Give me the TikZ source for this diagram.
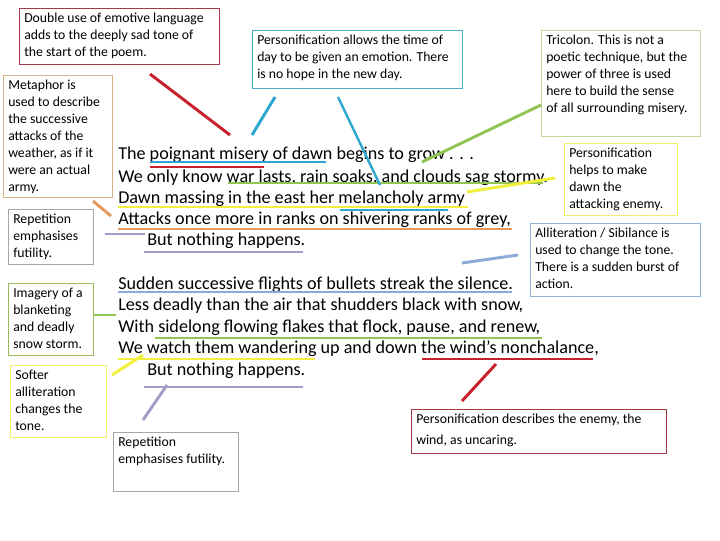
\documentclass[tikz,border=0pt]{standalone}
\usepackage{fontspec}
\setmainfont{Carlito}
\definecolor{cred}{HTML}{C8202A}
\definecolor{cblue}{HTML}{2FA6D0}
\definecolor{cgreen}{HTML}{93C352}
\definecolor{cyellow}{HTML}{F2F03C}
\definecolor{corange}{HTML}{E39A5C}
\definecolor{cpurple}{HTML}{A79BC7}
\definecolor{clblue}{HTML}{8EAAD8}
\definecolor{bred}{HTML}{A33A48}
\definecolor{btan}{HTML}{D8B284}
\definecolor{bgray}{HTML}{A6A6A6}
\definecolor{bgreen}{HTML}{9BBB59}
\definecolor{byellow}{HTML}{F3EE6A}
\definecolor{bblue}{HTML}{4BACC6}
\definecolor{blgreen}{HTML}{C3D69B}
\definecolor{bsteel}{HTML}{95B3D7}
\newcommand\bx[3]{\parbox[t][\dimexpr#2pt*3/4-7pt\relax][t]{\dimexpr#1pt*3/4-7pt\relax}{\raggedright#3}}
\tikzset{
  box/.style={draw=#1, line width=0.9pt, anchor=north west, inner xsep=3.5pt, inner ysep=3.5pt,
     font=\fontsize{10.3}{12.75}\selectfont},
  poem/.style={anchor=base west, inner sep=0pt, font=\fontsize{13.6}{16}\selectfont},
  ul/.style={draw=#1, line width=2.2pt},
  con/.style={draw=#1, line width=2.2pt},
}
\begin{document}
\begin{tikzpicture}[x=0.75pt,y=-0.75pt]
\useasboundingbox (0,0) rectangle (720,540);
% boxes
\node[box=bred] (b1) at (19,8) {\bx{200}{56}{Double use of emotive language\\adds to the deeply sad tone of\\the start of the poem.}};
\node[box=btan] (b2) at (3,75) {\bx{109}{122}{Metaphor is\\used to describe\\the successive\\attacks of the\\weather, as if it\\were an actual\\army.}};
\node[box=bgray] (b3) at (8,209) {\bx{85}{55}{Repetition\\emphasises\\futility.}};
\node[box=bgreen] (b4) at (8,283) {\bx{85}{72}{Imagery of a\\blanketing\\and deadly\\snow storm.}};
\node[box=byellow] (b5) at (10,365) {\bx{96}{72}{Softer\\alliteration\\changes the\\tone.}};
\node[box=bgray] (b6) at (113,432) {\bx{125}{59}{Repetition\\emphasises futility.}};
\node[box=bblue] (b7) at (252,30) {\bx{210}{58}{Personification allows the time of\\day to be given an emotion. There\\is no hope in the new day.}};
\node[box=blgreen] (b8) at (541,30) {\bx{159}{106}{Tricolon. This is not a\\poetic technique, but the\\power of three is used\\here to build the sense\\of all surrounding misery.}};
\node[box=byellow] (b9) at (564,143) {\bx{113}{72}{Personification\\helps to make\\dawn the\\attacking enemy.}};
\node[box=bsteel] (b10) at (530,223) {\bx{170}{73}{Alliteration / Sibilance is\\used to change the tone.\\There is a sudden burst of\\action.}};
\node[box=bred] (b11) at (411,409) {\bx{255}{44}{\setlength\baselineskip{15.5pt}Personification describes the enemy, the\\wind, as uncaring.}};
% poem
\node[poem] (p1) at (118,159) {The poignant misery of dawn begins to grow . . .};
\node[poem] (p2) at (118,182) {We only know war lasts, rain soaks, and clouds sag stormy.};
\node[poem] (p3) at (118,203) {Dawn massing in the east her melancholy army};
\node[poem] (p4) at (118,224) {Attacks once more in ranks on shivering ranks of grey,};
\node[poem] (p5) at (147,245) {But nothing happens.};
\node[poem] (q1) at (118,289) {Sudden successive flights of bullets streak the silence.};
\node[poem] (q2) at (118,310) {Less deadly than the air that shudders black with snow,};
\node[poem] (q3) at (118,332) {With sidelong flowing flakes that flock, pause, and renew,};
\node[poem] (q4) at (118,353) {We watch them wandering up and down the wind's nonchalance,};
\node[poem] (q5) at (147,375) {But nothing happens.};
% underlines
\coordinate (u1a) at (150,162); \coordinate (u1b) at (326,162);
\coordinate (u2a) at (150,167); \coordinate (u2b) at (264,167);
\coordinate (u3a) at (228,183); \coordinate (u3b) at (543,183);
\coordinate (u4a) at (118,207); \coordinate (u4b) at (468,207);
\coordinate (u5a) at (340,210); \coordinate (u5b) at (448,210);
\coordinate (u6a) at (118,229); \coordinate (u6b) at (512,229);
\coordinate (u7a) at (144,252); \coordinate (u7b) at (303,252);
\coordinate (u8a) at (118,292); \coordinate (u8b) at (512,292);
\coordinate (u9a) at (155,338); \coordinate (u9b) at (542,338);
\coordinate (u10a) at (118,359); \coordinate (u10b) at (315,359);
\coordinate (u11a) at (422,359); \coordinate (u11b) at (593,359);
\coordinate (u12a) at (144,387); \coordinate (u12b) at (303,387);
\draw[ul=cblue] (u1a) -- (u1b);
\draw[ul=cred] (u2a) -- (u2b);
\draw[ul=cgreen] (u3a) -- (u3b);
\draw[ul=cyellow] (u4a) -- (u4b);
\draw[ul=cblue] (u5a) -- (u5b);
\draw[ul=corange] (u6a) -- (u6b);
\draw[ul=cpurple] (u7a) -- (u7b);
\draw[ul=clblue] (u8a) -- (u8b);
\draw[ul=cgreen] (u9a) -- (u9b);
\draw[ul=cyellow] (u10a) -- (u10b);
\draw[ul=cred] (u11a) -- (u11b);
\draw[ul=cpurple] (u12a) -- (u12b);
% connectors
\coordinate (c1a) at (150,74); \coordinate (c1b) at (230,135);
\coordinate (c2a) at (275,97); \coordinate (c2b) at (252,135);
\coordinate (c3a) at (338,97); \coordinate (c3b) at (380,185);
\coordinate (c4b) at (422,162);
\coordinate (c5a) at (555,178); \coordinate (c5b) at (467,192);
\coordinate (c6a) at (518,255); \coordinate (c6b) at (462,263);
\coordinate (c7a) at (496,364); \coordinate (c7b) at (462,401);
\coordinate (c8a) at (93,201); \coordinate (c8b) at (111,216);
\coordinate (c9a) at (105,234); \coordinate (c9b) at (145,234);
\coordinate (c10b) at (116,315);
\coordinate (c11a) at (112,375); \coordinate (c11b) at (143,355);
\coordinate (c12a) at (143,420); \coordinate (c12b) at (167,385);
\draw[con=cred] (c1a) -- (c1b);
\draw[con=cblue] (c2a) -- (c2b);
\draw[con=cblue, line width=1.8pt] (c3a) -- (c3b);
\draw[con=cgreen] (b8.west |- 0,105) -- (c4b);
\draw[con=cyellow] (c5a) -- (c5b);
\draw[con=clblue] (c6a) -- (c6b);
\draw[con=cred] (c7a) -- (c7b);
\draw[con=corange] (c8a) -- (c8b);
\draw[con=cpurple] (c9a) -- (c9b);
\draw[con=cgreen] (b4.east |- 0,315) -- (c10b);
\draw[con=cyellow] (c11a) -- (c11b);
\draw[con=cpurple] (c12a) -- (c12b);
\end{tikzpicture}
\end{document}
